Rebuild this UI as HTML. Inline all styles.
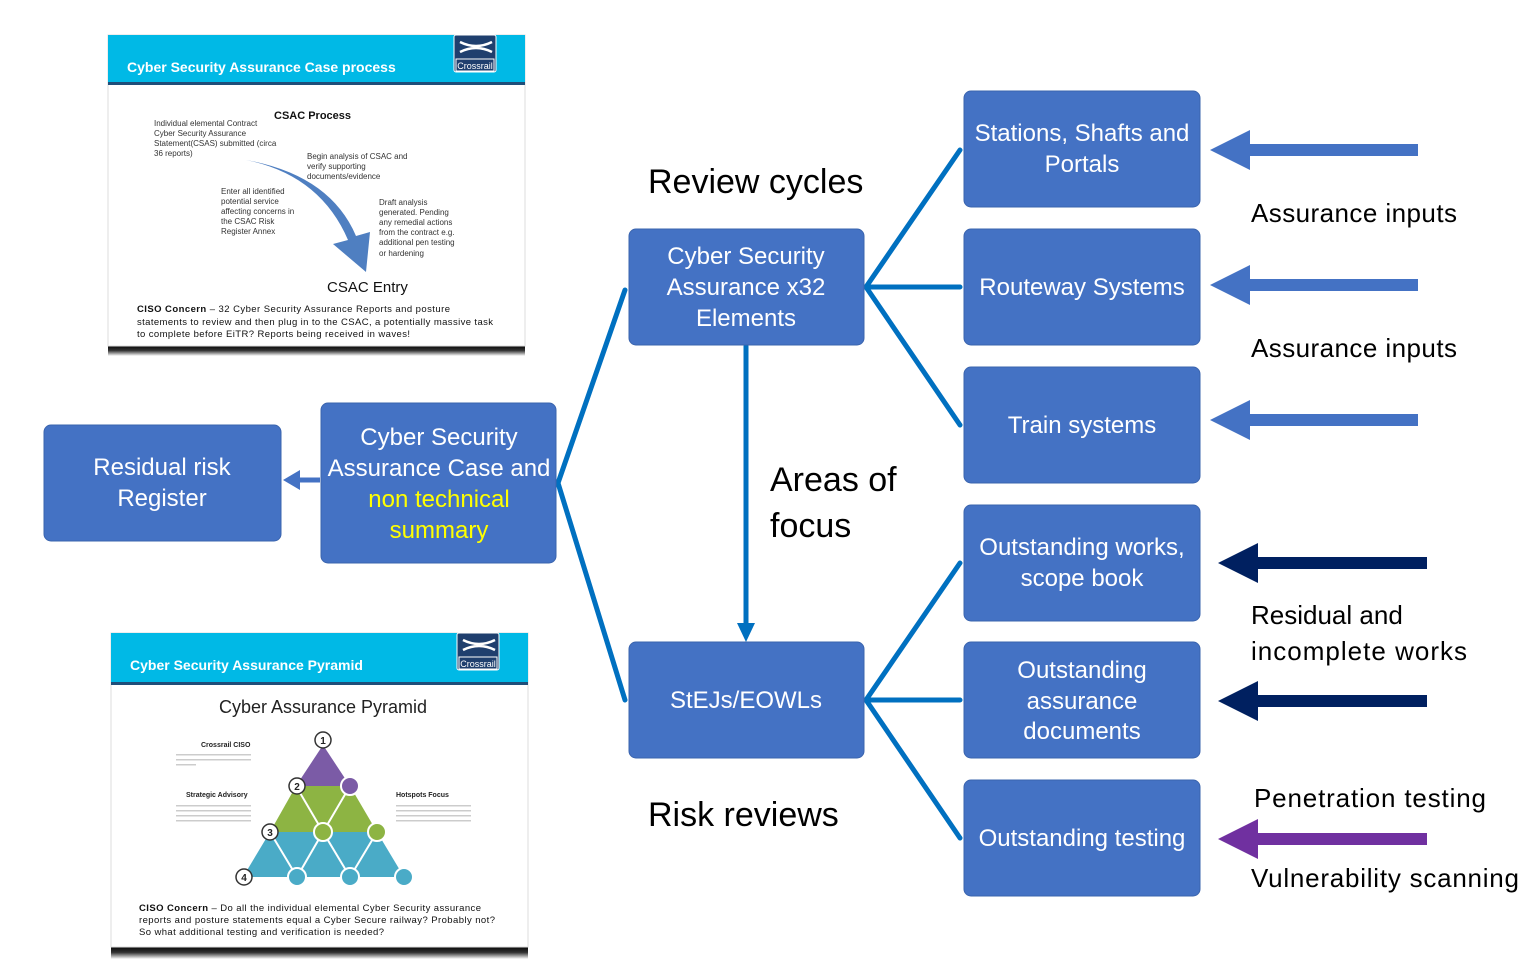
<!DOCTYPE html>
<html><head><meta charset="utf-8"><style>
html,body{margin:0;padding:0;background:#fff;}
svg{display:block;}
</style></head><body>
<svg width="1536" height="967" viewBox="0 0 1536 967" xmlns="http://www.w3.org/2000/svg" font-family="Liberation Sans, DejaVu Sans, sans-serif">
<defs>
<linearGradient id="sh" x1="0" y1="0" x2="0" y2="1"><stop offset="0" stop-color="#000" stop-opacity="1"/><stop offset="0.5" stop-color="#000" stop-opacity="0.8"/><stop offset="1" stop-color="#000" stop-opacity="0"/></linearGradient>
</defs>
<!-- Slide 1 -->
<rect x="108" y="345" width="417" height="11" fill="url(#sh)"/>
<rect x="108" y="35" width="417" height="311" fill="#fff" stroke="#ddd"/>
<rect x="108" y="35" width="417" height="48" fill="#00B9E6"/>
<rect x="108" y="82" width="417" height="3" fill="#1F4E79"/>
<text x="127" y="72" font-size="14" font-weight="bold" fill="#fff">Cyber Security Assurance Case process</text>
<rect x="454" y="35" width="42" height="37" rx="2" fill="#1F3F6E" stroke="#fff"/>
<path d="M460 42 q16 8 32 0 M460 52 q16 -8 32 0" stroke="#fff" stroke-width="2.5" fill="none"/>
<rect x="456" y="59" width="38" height="12" fill="#1F3F6E" stroke="#fff"/>
<text x="475" y="69" font-size="9" fill="#fff" text-anchor="middle">Crossrail</text>
<text x="274" y="119" font-size="11" font-weight="bold" fill="#111">CSAC Process</text>
<g font-size="8" fill="#333">
<text x="154" y="126">Individual elemental Contract</text>
<text x="154" y="136">Cyber Security Assurance</text>
<text x="154" y="146">Statement(CSAS) submitted (circa</text>
<text x="154" y="156">36 reports)</text>
<text x="307" y="159">Begin analysis of CSAC and</text>
<text x="307" y="169">verify supporting</text>
<text x="307" y="179">documents/evidence</text>
<text x="221" y="194">Enter all identified</text>
<text x="221" y="204">potential service</text>
<text x="221" y="214">affecting concerns in</text>
<text x="221" y="224">the CSAC Risk</text>
<text x="221" y="234">Register Annex</text>
<text x="379" y="205">Draft analysis</text>
<text x="379" y="215">generated. Pending</text>
<text x="379" y="225">any remedial actions</text>
<text x="379" y="235">from the contract e.g.</text>
<text x="379" y="245">additional pen testing</text>
<text x="379" y="256">or hardening</text>
</g>
<path d="M246 160 Q320 175 348 240 L333 244 L366 272 L370 232 L356 236 Q330 175 246 160 Z" fill="#4F7FC1"/>
<text x="327" y="292" font-size="15" fill="#111">CSAC Entry</text>
<g font-size="9.5" fill="#111">
<text x="137" y="312" textLength="313"><tspan font-weight="bold">CISO Concern</tspan> – 32 Cyber Security Assurance Reports and posture</text>
<text x="137" y="325" textLength="356">statements to review and then plug in to the CSAC, a potentially massive task</text>
<text x="137" y="337" textLength="273">to complete before EiTR? Reports being received in waves!</text>
</g>
<!-- Slide 2 -->
<rect x="111" y="946" width="417" height="13" fill="url(#sh)"/>
<rect x="111" y="633" width="417" height="314" fill="#fff" stroke="#ddd"/>
<rect x="111" y="633" width="417" height="50" fill="#00B9E6"/>
<rect x="111" y="682" width="417" height="3" fill="#1F4E79"/>
<text x="130" y="670" font-size="14" font-weight="bold" fill="#fff">Cyber Security Assurance Pyramid</text>
<rect x="457" y="633" width="42" height="37" rx="2" fill="#1F3F6E" stroke="#fff"/>
<path d="M463 640 q16 8 32 0 M463 650 q16 -8 32 0" stroke="#fff" stroke-width="2.5" fill="none"/>
<rect x="459" y="657" width="38" height="12" fill="#1F3F6E" stroke="#fff"/>
<text x="478" y="667" font-size="9" fill="#fff" text-anchor="middle">Crossrail</text>
<text x="323" y="713" font-size="18" fill="#222" text-anchor="middle">Cyber Assurance Pyramid</text>
<polygon points="323,745 350,786 296,786" fill="#7B5BA6"/>
<polygon points="296,786 350,786 377,832 270,832" fill="#8DB443"/>
<polygon points="270,832 377,832 404,877 243,877" fill="#4AABC7"/>
<g stroke="#fff" stroke-width="2" fill="none"><path d="M323 832 L296 786 M323 832 L350 786 M297 877 L323 832 L350 877 M270 832 L297 877 M377 832 L350 877"/></g>
<g stroke="#fff" stroke-width="2">
<circle cx="350" cy="786" r="9" fill="#7B5BA6"/>
<circle cx="323" cy="832" r="9" fill="#8DB443"/><circle cx="377" cy="832" r="9" fill="#8DB443"/>
<circle cx="297" cy="877" r="9" fill="#4AABC7"/><circle cx="350" cy="877" r="9" fill="#4AABC7"/><circle cx="404" cy="877" r="9" fill="#4AABC7"/>
</g>
<g stroke="#333" stroke-width="1.5" fill="#fff">
<circle cx="323" cy="740" r="8"/><circle cx="297" cy="786" r="8"/><circle cx="270" cy="832" r="8"/><circle cx="244" cy="877" r="8"/>
</g>
<g font-size="10" font-weight="bold" text-anchor="middle" fill="#222">
<text x="323" y="744">1</text><text x="297" y="790">2</text><text x="270" y="836">3</text><text x="244" y="881">4</text>
</g>
<g font-size="7" font-weight="bold" fill="#222">
<text x="201" y="747">Crossrail CISO</text>
<text x="186" y="797">Strategic Advisory</text>
<text x="396" y="797">Hotspots Focus</text>
</g>
<g fill="#ccc"><rect x="176" y="754" width="75" height="1.5"/><rect x="176" y="759" width="75" height="1.5"/><rect x="176" y="764" width="20" height="1.5"/>
<rect x="176" y="805" width="75" height="1.5"/><rect x="176" y="810" width="75" height="1.5"/><rect x="176" y="815" width="75" height="1.5"/><rect x="176" y="820" width="75" height="1.5"/>
<rect x="396" y="805" width="75" height="1.5"/><rect x="396" y="810" width="75" height="1.5"/><rect x="396" y="815" width="75" height="1.5"/><rect x="396" y="820" width="75" height="1.5"/></g>
<g font-size="9.5" fill="#111">
<text x="139" y="911" textLength="342"><tspan font-weight="bold">CISO Concern</tspan> – Do all the individual elemental Cyber Security assurance</text>
<text x="139" y="923" textLength="356">reports and posture statements equal a Cyber Secure railway? Probably not?</text>
<text x="139" y="935" textLength="245">So what additional testing and verification is needed?</text>
</g>
<!-- connectors -->
<g stroke="#0070C0" stroke-width="5" fill="none" stroke-linecap="round">
<path d="M625 290 L558 483 L625 700"/>
<path d="M960 150 L866 287 L960 425 M866 287 L960 287"/>
<path d="M960 563 L866 700 L960 838 M866 700 L960 700"/>
<path d="M746 346 L746 625"/>
</g>
<polygon points="737,623 755,623 746,642" fill="#0070C0"/>
<path d="M320 480 L298 480" stroke="#4472C4" stroke-width="5"/>
<polygon points="300,470 300,490 283,480" fill="#4472C4"/>
<!-- boxes -->
<g fill="#4472C4" stroke="#3A64AE" stroke-width="1">
<rect x="44" y="425" width="237" height="116" rx="7"/>
<rect x="321" y="403" width="235" height="160" rx="7"/>
<rect x="629" y="229" width="235" height="116" rx="7"/>
<rect x="629" y="642" width="235" height="116" rx="7"/>
<rect x="964" y="91" width="236" height="116" rx="7"/>
<rect x="964" y="229" width="236" height="116" rx="7"/>
<rect x="964" y="367" width="236" height="116" rx="7"/>
<rect x="964" y="505" width="236" height="116" rx="7"/>
<rect x="964" y="642" width="236" height="116" rx="7"/>
<rect x="964" y="780" width="236" height="116" rx="7"/>
</g>
<g font-size="24" fill="#fff" text-anchor="middle">
<text x="162" y="475">Residual risk</text><text x="162" y="506">Register</text>
<text x="439" y="445">Cyber Security</text><text x="439" y="476">Assurance Case and</text>
<text x="439" y="507" fill="#FFFF00">non technical</text><text x="439" y="538" fill="#FFFF00">summary</text>
<text x="746" y="264">Cyber Security</text><text x="746" y="295">Assurance x32</text><text x="746" y="326">Elements</text>
<text x="746" y="708">StEJs/EOWLs</text>
<text x="1082" y="141">Stations, Shafts and</text><text x="1082" y="172">Portals</text>
<text x="1082" y="295">Routeway Systems</text>
<text x="1082" y="433">Train systems</text>
<text x="1082" y="555">Outstanding works,</text><text x="1082" y="586">scope book</text>
<text x="1082" y="678">Outstanding</text><text x="1082" y="709">assurance</text><text x="1082" y="739">documents</text>
<text x="1082" y="846">Outstanding testing</text>
</g>
<!-- arrows right -->
<g fill="#4472C4">
<polygon points="1210,150 1250,130 1250,144 1418,144 1418,156 1250,156 1250,170"/>
<polygon points="1210,285 1250,265 1250,279 1418,279 1418,291 1250,291 1250,305"/>
<polygon points="1210,420 1250,400 1250,414 1418,414 1418,426 1250,426 1250,440"/>
</g>
<g fill="#002060">
<polygon points="1218,563 1258,543 1258,557 1427,557 1427,569 1258,569 1258,583"/>
<polygon points="1218,701 1258,681 1258,695 1427,695 1427,707 1258,707 1258,721"/>
</g>
<polygon points="1218,839 1258,819 1258,833 1427,833 1427,845 1258,845 1258,859" fill="#7030A0"/>
<!-- labels -->
<g fill="#000">
<text x="648" y="193" font-size="34">Review cycles</text>
<text x="770" y="491" font-size="34">Areas of</text>
<text x="770" y="537" font-size="34">focus</text>
<text x="648" y="826" font-size="34">Risk reviews</text>
<g font-size="26">
<text x="1251" y="222" textLength="206">Assurance inputs</text>
<text x="1251" y="357" textLength="206">Assurance inputs</text>
<text x="1251" y="624">Residual and</text>
<text x="1251" y="660" textLength="216">incomplete works</text>
<text x="1254" y="807" textLength="232">Penetration testing</text>
<text x="1251" y="887" textLength="268">Vulnerability scanning</text>
</g>
</g>
</svg>
</body></html>
